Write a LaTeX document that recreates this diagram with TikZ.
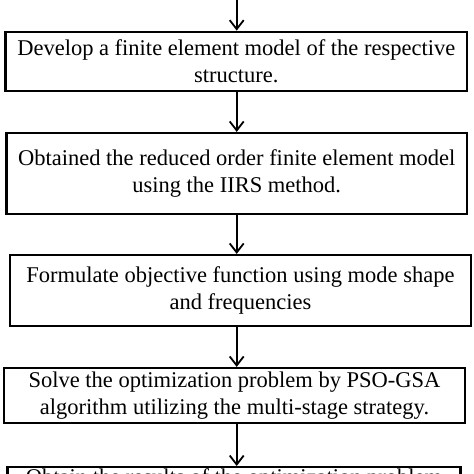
\documentclass[tikz,border=0pt]{standalone}
\usepackage{fontspec}
\setmainfont{Liberation Serif}
\usetikzlibrary{arrows.meta}

\begin{document}
\begin{tikzpicture}[x=1pt,y=1pt,
    stepbox/.style={draw, line width=2.2pt, align=center, inner sep=0pt,
        font=\fontsize{22.5}{26.5}\selectfont},
    flowarrow/.style={line width=1.8pt, -{Straight Barb[length=9pt,width=14pt,line width=1.8pt]}}]
            \useasboundingbox (0,0) rectangle (474,-474);
            \clip (0,0) rectangle (474,-474);
            % steps of the procedure
            \coordinate (start) at (236.7,0);
            \node [stepbox, minimum width=461.5, minimum height=59] (model) at (236.25,-61.2)
                {Develop a finite element model of the respective\\structure.};
            \node [stepbox, minimum width=460.5, minimum height=81] (reduce) at (236.75,-173.5)
                {Obtained the reduced order finite element model\\using the IIRS method.};
            \node [stepbox, minimum width=461, minimum height=71] (objective) at (240.5,-290.5)
                {Formulate objective function using mode shape\\and frequencies};
            \node [stepbox, minimum width=461, minimum height=55] (solve) at (234.5,-395.5)
                {Solve the optimization problem by PSO-GSA\\algorithm utilizing the multi-stage strategy.};
            \node [stepbox, minimum width=453, inner ysep=2pt, anchor=north] (results) at (234,-466)
                {Obtain the results of the optimization problem};
            % connectors
            \draw [flowarrow] (start) -- (model.north -| start);
            \draw [flowarrow] (model.south -| start) -- (reduce.north -| start);
            \draw [flowarrow] (reduce.south -| start) -- (objective.north -| start);
            \draw [flowarrow] (objective.south -| start) -- (solve.north -| start);
            \draw [flowarrow] (solve.south -| start) -- (results.north -| start);
\end{tikzpicture}
\end{document}
